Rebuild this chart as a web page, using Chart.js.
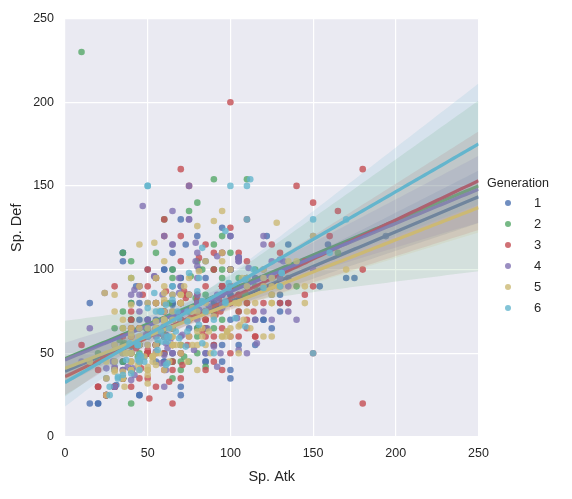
<!DOCTYPE html>
<html>
<head>
<meta charset="utf-8">
<script src="https://cdn.jsdelivr.net/npm/chart.js@4.4.0/dist/chart.umd.min.js"></script>
<style>
  html, body { margin: 0; padding: 0; background: #fff; }
  #wrap { position: relative; width: 572px; height: 499px; }
  #legend {
    position: absolute; left: 487px; top: 174px;
    font-family: "Liberation Sans", Arial, sans-serif; color: #262626;
  }
  #legend .titulo { font-size: 12.5px; height: 18px; line-height: 18px; }
  #legend .fila { position: relative; height: 21px; font-size: 13px; line-height: 21px; }
  #legend .punto { position: absolute; left: 18px; top: 7.5px; width: 6px; height: 6px; border-radius: 50%; }
  #legend .num { position: absolute; left: 47px; }
</style>
</head>
<body>
<div id="wrap">
  <canvas id="grafico" width="572" height="499"></canvas>
  <div id="legend"></div>
</div>
<script>
// Sp. Atk / Sp. Def por generación, [x, y]
const gen1 = [[65,65],[80,80],[100,100],[122,120],[60,50],[80,65],[109,85],[130,85],[159,115],[50,64],[65,80],[85,105],[135,115],[20,20],[25,25],[90,80],[20,20],[25,25],[45,80],[15,80],[35,35],[50,50],[70,70],[135,80],[25,35],[50,70],[31,31],[61,61],[40,54],[65,79],[50,50],[90,80],[20,30],[45,55],[40,40],[55,55],[75,85],[40,40],[55,55],[85,75],[60,65],[95,90],[50,65],[81,100],[45,25],[85,50],[30,40],[65,75],[75,65],[85,75],[110,90],[45,55],[60,80],[40,55],[90,75],[35,45],[50,70],[40,40],[65,65],[65,50],[95,80],[35,45],[60,70],[70,50],[100,80],[40,40],[50,50],[70,90],[105,55],[120,70],[135,95],[175,95],[35,35],[50,60],[65,85],[70,30],[85,45],[100,70],[50,100],[80,120],[30,30],[45,45],[55,65],[65,65],[80,80],[40,40],[100,80],[130,80],[95,55],[120,70],[58,62],[35,35],[60,60],[45,70],[70,95],[40,50],[65,100],[45,25],[85,45],[100,35],[115,55],[130,75],[170,95],[30,45],[43,90],[73,115],[25,25],[50,50],[55,55],[80,80],[60,45],[125,65],[40,50],[50,80],[35,110],[35,110],[60,75],[60,45],[85,70],[30,30],[45,45],[35,105],[100,40],[40,80],[60,100],[70,25],[95,45],[35,50],[65,80],[70,55],[100,85],[100,120],[55,80],[115,95],[95,85],[100,85],[55,70],[65,90],[40,70],[15,20],[60,100],[70,130],[85,95],[48,48],[45,65],[110,95],[110,95],[95,110],[85,75],[90,55],[115,70],[55,45],[65,70],[60,75],[70,95],[65,110],[95,125],[125,90],[125,85],[50,50],[70,70],[100,100],[154,90],[100,100],[194,120],[100,100]];
const gen2 = [[49,65],[63,80],[83,100],[60,50],[80,65],[109,85],[44,48],[59,63],[79,83],[35,45],[45,55],[36,56],[76,96],[40,80],[55,110],[40,40],[60,60],[70,80],[56,56],[76,76],[35,35],[45,55],[40,20],[40,65],[80,105],[70,45],[95,70],[65,45],[80,60],[115,90],[165,110],[90,100],[20,50],[60,80],[30,65],[90,100],[35,55],[45,65],[55,95],[40,55],[30,30],[105,85],[75,45],[25,25],[65,65],[130,95],[60,130],[85,42],[100,110],[85,85],[72,48],[33,58],[90,65],[35,35],[60,60],[65,65],[35,65],[55,65],[55,95],[40,40],[60,60],[55,55],[55,80],[65,100],[10,230],[40,95],[40,105],[35,75],[50,50],[75,75],[70,40],[80,80],[30,30],[60,60],[65,95],[65,35],[105,75],[65,45],[80,140],[40,70],[80,50],[110,80],[140,90],[95,95],[40,40],[60,60],[105,95],[85,65],[20,45],[35,35],[35,110],[85,65],[65,55],[70,55],[40,70],[75,135],[115,100],[90,75],[90,115],[45,50],[65,70],[95,100],[95,120],[90,154],[110,154],[100,100]];
const gen3 = [[65,55],[85,65],[105,85],[145,85],[70,50],[85,60],[110,70],[130,80],[50,50],[60,70],[85,90],[95,110],[30,30],[60,60],[30,41],[50,61],[20,30],[25,25],[100,50],[25,25],[50,90],[40,50],[60,70],[90,100],[30,30],[60,40],[90,60],[30,30],[50,50],[55,30],[85,70],[45,35],[65,55],[125,115],[165,135],[50,52],[80,82],[40,60],[60,60],[35,35],[55,55],[95,65],[30,30],[50,50],[30,30],[51,23],[71,43],[91,73],[20,30],[40,60],[20,40],[45,90],[35,35],[55,55],[65,65],[85,115],[55,55],[55,95],[40,40],[50,50],[60,60],[60,80],[40,55],[60,75],[80,85],[65,40],[105,60],[135,80],[85,75],[75,85],[47,85],[73,85],[100,80],[43,53],[73,83],[65,20],[95,40],[110,65],[70,35],[90,45],[65,45],[105,75],[145,105],[85,70],[70,80],[90,110],[60,60],[45,45],[50,50],[80,80],[85,40],[115,60],[40,75],[70,105],[110,105],[60,60],[100,60],[95,85],[55,65],[46,41],[76,71],[50,35],[90,55],[40,70],[70,120],[61,87],[81,107],[40,50],[70,80],[10,55],[100,125],[70,70],[60,120],[63,33],[83,63],[93,83],[30,90],[60,130],[72,87],[95,90],[75,60],[115,60],[23,48],[50,50],[80,80],[120,80],[55,50],[75,70],[95,90],[74,55],[94,75],[114,75],[45,65],[40,65],[40,30],[60,50],[110,80],[120,90],[35,60],[55,80],[95,90],[105,110],[50,100],[100,200],[75,150],[110,130],[140,150],[130,110],[160,120],[150,140],[180,160],[100,90],[100,90],[150,90],[180,100],[100,100],[150,50],[180,20],[70,160],[95,90]];
const gen4 = [[45,55],[55,65],[75,85],[58,44],[78,52],[104,71],[61,56],[81,76],[111,101],[30,30],[40,40],[50,60],[35,40],[55,60],[25,41],[55,51],[40,34],[60,49],[95,79],[50,70],[125,105],[30,30],[65,50],[42,88],[47,138],[29,45],[79,105],[59,85],[69,95],[94,50],[30,42],[80,102],[45,90],[60,30],[85,50],[62,53],[87,78],[57,62],[92,82],[60,66],[60,44],[90,54],[44,56],[54,96],[54,96],[105,105],[105,52],[42,37],[64,59],[65,50],[41,41],[71,61],[24,86],[79,116],[10,45],[70,90],[15,65],[92,42],[92,108],[40,45],[50,55],[80,85],[120,95],[40,85],[35,40],[115,70],[140,70],[38,42],[68,72],[30,55],[60,75],[61,40],[86,65],[90,72],[49,61],[69,86],[60,120],[62,60],[92,85],[132,105],[45,85],[130,90],[80,95],[55,55],[110,50],[95,85],[125,95],[120,115],[116,56],[60,65],[130,95],[45,75],[70,60],[135,75],[65,115],[65,115],[75,150],[65,135],[80,70],[95,77],[105,107],[105,107],[105,107],[105,107],[105,107],[75,130],[105,105],[125,70],[150,100],[150,120],[130,106],[80,110],[100,120],[120,100],[75,130],[80,80],[100,100],[135,90],[100,100],[120,75],[120,120]];
const gen5 = [[100,100],[45,55],[60,75],[75,95],[45,45],[70,55],[100,65],[63,45],[83,60],[108,70],[35,39],[60,69],[25,45],[35,65],[45,90],[50,37],[88,50],[53,48],[98,63],[53,48],[98,63],[53,48],[98,63],[67,55],[107,95],[36,30],[50,42],[65,55],[50,32],[80,63],[25,25],[50,40],[60,80],[55,43],[77,55],[30,45],[50,65],[60,86],[80,126],[25,35],[40,50],[55,65],[50,40],[65,55],[85,75],[30,85],[30,75],[40,60],[50,80],[70,80],[30,39],[40,79],[55,69],[37,50],[77,75],[70,50],[110,75],[80,55],[35,35],[45,45],[65,70],[15,45],[30,55],[140,105],[106,67],[35,35],[65,75],[35,70],[45,115],[103,80],[55,65],[95,105],[53,45],[83,65],[74,45],[112,65],[40,62],[60,82],[80,40],[120,60],[40,40],[65,60],[55,65],[75,85],[95,110],[105,50],[125,60],[125,85],[44,43],[87,63],[65,60],[80,75],[110,95],[40,50],[60,70],[75,60],[40,45],[60,105],[55,55],[85,80],[65,85],[85,105],[40,45],[57,50],[97,60],[24,86],[54,116],[45,60],[70,85],[70,85],[45,40],[75,70],[105,80],[85,55],[125,95],[65,55],[95,60],[145,90],[30,40],[40,50],[60,70],[60,40],[70,80],[95,135],[40,65],[100,60],[81,99],[55,50],[95,60],[60,90],[35,50],[55,80],[40,40],[60,70],[40,95],[37,50],[57,75],[45,65],[55,95],[105,66],[48,48],[45,45],[65,65],[125,90],[50,55],[135,105],[90,72],[72,90],[90,129],[125,80],[110,90],[125,80],[145,80],[150,120],[120,100],[115,80],[105,80],[130,90],[120,90],[170,100],[129,90],[129,90],[128,128],[77,77],[120,95]];
const gen6 = [[48,45],[56,58],[74,75],[62,60],[90,70],[114,100],[62,44],[83,56],[103,71],[32,36],[50,77],[40,38],[56,52],[74,69],[27,25],[27,30],[90,50],[73,54],[109,66],[61,79],[75,98],[112,154],[62,57],[97,81],[46,48],[69,71],[65,90],[63,60],[83,81],[83,81],[35,37],[45,49],[150,50],[50,150],[63,65],[99,89],[59,57],[85,75],[37,46],[68,75],[39,56],[54,86],[60,60],[97,123],[58,63],[120,89],[61,43],[109,94],[45,45],[69,59],[67,63],[99,92],[110,130],[74,63],[81,67],[50,150],[55,75],[83,113],[110,150],[80,87],[50,60],[65,82],[44,55],[44,55],[44,55],[44,55],[58,75],[58,75],[58,75],[58,75],[32,35],[44,46],[45,40],[97,80],[131,98],[131,98],[81,95],[100,150],[160,110],[150,130],[170,130],[130,90]];

const generaciones = ['1', '2', '3', '4', '5', '6'];
const datosGen = [gen1, gen2, gen3, gen4, gen5, gen6];
const colores = ['#4C72B0', '#55A868', '#C44E52', '#8172B2', '#CCB974', '#64B5CD'];
const ticksX = [0, 50, 100, 150, 200, 250];
const ticksY = [0, 50, 100, 150, 200, 250];

function rgba(hex, a) {
  const n = parseInt(hex.slice(1), 16);
  return `rgba(${(n >> 16) & 255}, ${(n >> 8) & 255}, ${n & 255}, ${a})`;
}

// Regresión lineal + banda del 95% (error robusto HC3, parecido al bootstrap de seaborn)
function ajustar(pts) {
  const n = pts.length;
  const mx = pts.reduce((s, p) => s + p[0], 0) / n;
  const my = pts.reduce((s, p) => s + p[1], 0) / n;
  let suu = 0, suy = 0;
  pts.forEach(p => { suu += (p[0] - mx) ** 2; suy += (p[0] - mx) * (p[1] - my); });
  const b = suy / suu, a = my - b * mx;
  let sw = 0, swu = 0, swuu = 0;
  pts.forEach(p => {
    const u = p[0] - mx;
    const e = p[1] - a - b * p[0];
    const h = 1 / n + u * u / suu;
    const w = (e / (1 - h)) ** 2;
    sw += w; swu += w * u; swuu += w * u * u;
  });
  const v00 = sw / (n * n), v01 = swu / (n * suu), v11 = swuu / (suu * suu);
  const linea = [], sup = [], inf = [];
  const xMin = ticksX[0], xMax = ticksX[ticksX.length - 1];
  for (let i = 0; i <= 100; i++) {
    const x = xMin + (xMax - xMin) * i / 100;
    const d = x - mx;
    const yh = a + b * x;
    const e = 1.96 * Math.sqrt(v00 + 2 * d * v01 + d * d * v11);
    linea.push({ x: x, y: yh });
    sup.push({ x: x, y: yh + e });
    inf.push({ x: x, y: yh - e });
  }
  return { linea, sup, inf };
}

const datasets = [];
datosGen.forEach((pts, g) => {
  const base = 100 - 10 * g;
  const f = ajustar(pts);
  datasets.push({
    type: 'scatter', label: generaciones[g], order: base,
    data: pts.map(p => ({ x: p[0], y: p[1] })),
    backgroundColor: rgba(colores[g], 0.8), borderWidth: 0, pointRadius: 3.3, pointHoverRadius: 3.3
  });
  datasets.push({
    type: 'line', label: 'sup' + g, order: base - 1,
    data: f.sup, borderWidth: 0, pointRadius: 0, fill: '+1',
    backgroundColor: rgba(colores[g], 0.15)
  });
  datasets.push({
    type: 'line', label: 'inf' + g, order: base - 2,
    data: f.inf, borderWidth: 0, pointRadius: 0, fill: false
  });
  datasets.push({
    type: 'line', label: 'ajuste' + g, order: base - 3,
    data: f.linea, borderColor: colores[g], borderWidth: 3.3, pointRadius: 0, fill: false
  });
});

// Fondo gris del área de trazado
const fondo = {
  id: 'fondo',
  beforeDraw(chart) {
    const { ctx, chartArea: c } = chart;
    ctx.save();
    ctx.fillStyle = '#EAEAF2';
    ctx.fillRect(c.left, c.top, c.right - c.left, c.bottom - c.top);
    ctx.restore();
  }
};

const fuente = { family: '"Liberation Sans", Arial, sans-serif', size: 12.5 };

new Chart(document.getElementById('grafico').getContext('2d'), {
  type: 'scatter',
  data: { datasets },
  options: {
    responsive: false,
    animation: false,
    events: [],
    layout: { padding: { top: 17, right: 93.5, left: 0, bottom: 0 } },
    plugins: { legend: { display: false }, tooltip: { enabled: false } },
    scales: {
      x: {
        type: 'linear', min: ticksX[0], max: ticksX[ticksX.length - 1],
        afterBuildTicks: s => { s.ticks = ticksX.map(v => ({ value: v })); },
        ticks: { color: '#262626', font: fuente, padding: 9 },
        grid: { color: '#ffffff', lineWidth: 1.2, drawTicks: false },
        border: { display: false },
        title: { display: true, text: 'Sp. Atk', color: '#262626', font: { family: fuente.family, size: 14.5 }, padding: { top: 0, bottom: 13 } },
        afterFit: s => { s.height = 62; }
      },
      y: {
        type: 'linear', min: ticksY[0], max: ticksY[ticksY.length - 1],
        afterBuildTicks: s => { s.ticks = ticksY.map(v => ({ value: v })); },
        ticks: { color: '#262626', font: fuente, padding: 11 },
        grid: { color: '#ffffff', lineWidth: 1.2, drawTicks: false },
        border: { display: false },
        title: { display: true, text: 'Sp. Def', color: '#262626', font: { family: fuente.family, size: 14.5 }, padding: { top: 8, bottom: 0 } },
        afterFit: s => { s.width = 65; }
      }
    }
  },
  plugins: [fondo]
});

// Leyenda
const leyenda = document.getElementById('legend');
let html = '<div class="titulo">Generation</div>';
generaciones.forEach((g, i) => {
  html += `<div class="fila"><span class="punto" style="background:${rgba(colores[i], 0.8)}"></span><span class="num">${g}</span></div>`;
});
leyenda.innerHTML = html;
</script>
</body>
</html>
